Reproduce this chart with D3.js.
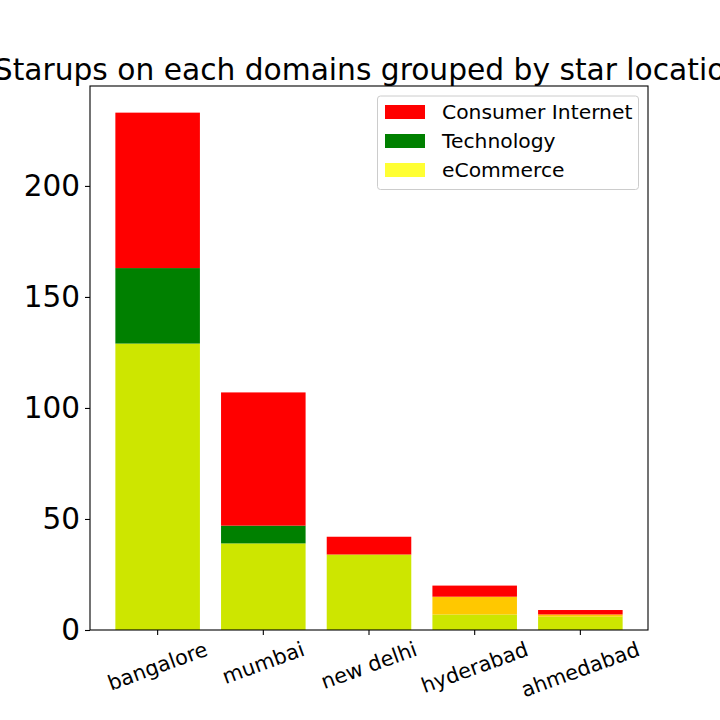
<!DOCTYPE html>
<html>
<head>
<meta charset="utf-8">
<script src="https://cdn.jsdelivr.net/npm/d3@7"></script>
<style>
  body { margin: 0; background: #fff; }
  svg { display: block; font-family: "DejaVu Sans", sans-serif; }
</style>
</head>
<body>
<svg id="chart" width="720" height="720"></svg>
<script>
// values
const locations = ["bangalore", "mumbai", "new delhi", "hyderabad", "ahmedabad"];
const eCommerce = [129, 39, 34, 7, 6];
const technology = [34, 8, 0, 8, 1];
const consumerInternet = [70, 60, 8, 5, 2];
const yTicks = [0, 50, 100, 150, 200];
const seriesKeys = ["eCommerce", "Technology", "Consumer Internet"];
const legendLabels = ["Consumer Internet", "Technology", "eCommerce"];

// bar fills (the legend swatches differ a little from the bars in the original)
const barColor = {"eCommerce": "#cde600", "Technology": "#008000", "Consumer Internet": "#ff0000"};
const techAltColor = ["#008000", "#008000", "#008000", "#ffc800", "#ffc800"];
const legendColor = {"Consumer Internet": "#ff0000", "Technology": "#008000", "eCommerce": "#ffff33"};

const margin = {left: 90, right: 72, top: 86, bottom: 90};
const W = 720, H = 720;

const svg = d3.select("#chart");

const rows = locations.map((loc, i) => ({
    loc: loc,
    "eCommerce": eCommerce[i],
    "Technology": technology[i],
    "Consumer Internet": consumerInternet[i]
}));

const stacked = d3.stack().keys(seriesKeys)(rows);

const x = d3.scaleBand()
    .domain(locations)
    .range([margin.left, W - margin.right])
    .paddingInner(0.2)
    .paddingOuter(0.24);

const y = d3.scaleLinear()
    .domain([0, 245])
    .range([H - margin.bottom, margin.top]);

// bars
stacked.forEach(function(layer) {
    svg.append("g")
        .selectAll("rect")
        .data(layer)
        .join("rect")
        .attr("x", d => x(d.data.loc))
        .attr("width", x.bandwidth())
        .attr("y", d => y(d[1]))
        .attr("height", d => y(d[0]) - y(d[1]))
        .attr("fill", (d, i) => layer.key === "Technology" ? techAltColor[i] : barColor[layer.key]);
});

// y axis
const yAxis = svg.append("g")
    .attr("transform", `translate(${margin.left},0)`)
    .call(d3.axisLeft(y).tickValues(yTicks).tickSize(5).tickPadding(5));
yAxis.select(".domain").remove();
yAxis.selectAll("line").attr("stroke", "#000").attr("stroke-width", 1.1);
yAxis.selectAll("text")
    .attr("font-size", "29.5px")
    .attr("font-family", "DejaVu Sans")
    .attr("fill", "#000");

// x axis
const xAxis = svg.append("g")
    .attr("transform", `translate(0,${H - margin.bottom})`)
    .call(d3.axisBottom(x).tickSize(5));
xAxis.select(".domain").remove();
xAxis.selectAll("line").attr("stroke", "#000").attr("stroke-width", 1.1);
xAxis.selectAll("text").remove();

const labelSize = 20.8;
const angle = 20 * Math.PI / 180;
const labelTop = 637;
svg.append("g")
    .selectAll("text")
    .data(locations)
    .join("text")
    .attr("font-size", labelSize + "px")
    .attr("text-anchor", "middle")
    .attr("dominant-baseline", "central")
    .text(d => d)
    .each(function(d) {
        const w = this.getComputedTextLength();
        const cx = x(d) + x.bandwidth() / 2;
        const cy = labelTop + (w * Math.sin(angle) + labelSize * 1.17 * Math.cos(angle)) / 2;
        d3.select(this)
            .attr("x", cx)
            .attr("y", cy)
            .attr("transform", `rotate(-20,${cx},${cy})`);
    });

// frame
svg.append("rect")
    .attr("x", margin.left)
    .attr("y", margin.top)
    .attr("width", W - margin.left - margin.right)
    .attr("height", H - margin.top - margin.bottom)
    .attr("fill", "none")
    .attr("stroke", "#000")
    .attr("stroke-width", 1.1);

// title (runs off both edges, as in the original)
svg.append("text")
    .attr("x", (margin.left + W - margin.right) / 2)
    .attr("y", 79.5)
    .attr("text-anchor", "middle")
    .attr("font-size", "29.7px")
    .text("Starups on each domains grouped by star location");

// legend
const legend = svg.append("g").attr("transform", "translate(377.5,96)");
legend.append("rect")
    .attr("width", 261)
    .attr("height", 93.5)
    .attr("rx", 3)
    .attr("fill", "#fff")
    .attr("fill-opacity", 0.8)
    .attr("stroke", "#cccccc")
    .attr("stroke-width", 1);

const item = legend.selectAll("g.item")
    .data(legendLabels)
    .join("g")
    .attr("class", "item")
    .attr("transform", (d, i) => `translate(0,${16 + i * 29})`);
item.append("rect")
    .attr("x", 7.5)
    .attr("y", -7)
    .attr("width", 40)
    .attr("height", 14)
    .attr("fill", d => legendColor[d]);
item.append("text")
    .attr("x", 64.5)
    .attr("y", 0)
    .attr("dominant-baseline", "central")
    .attr("font-size", "20.3px")
    .text(d => d);
</script>
</body>
</html>
